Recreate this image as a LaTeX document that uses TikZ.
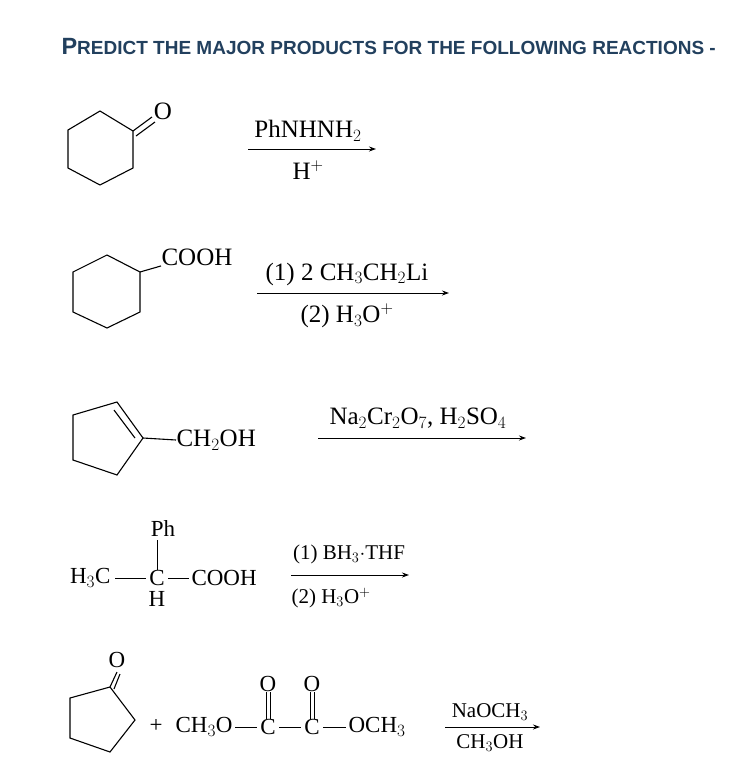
\documentclass[tikz,border=0pt]{standalone}
\usetikzlibrary{arrows.meta}
\usepackage{fontspec}
\setmainfont{Liberation Serif}
\newfontfamily\hdr{Liberation Sans}
\begin{document}
\begin{tikzpicture}[x=1pt,y=-1pt,line width=1.1pt,
  lab/.style={inner sep=0pt,font=\fontsize{25}{28}\selectfont},
  labs/.style={inner sep=0pt,font=\fontsize{23}{26}\selectfont},
  labr/.style={inner sep=0pt,font=\fontsize{21}{24}\selectfont},
  bnd/.style={line width=1pt},
  rxn/.style={-{Stealth[length=7pt,width=5pt]},line width=0.9pt}]
\useasboundingbox (0,0) rectangle (736,774);
\definecolor{hcol}{HTML}{22405E}
\node[anchor=west,inner sep=0pt,text=hcol,font=\hdr\bfseries] (h) at (61,47)
  {{\fontsize{23.5}{26}\selectfont P}{\fontsize{19}{22}\selectfont REDICT THE MAJOR PRODUCTS FOR THE FOLLOWING REACTIONS -}};
% Reaction 1
\draw (133,131)--(100,111)--(68,130)--(68,168)--(100,185)--(133,168)--cycle;
\coordinate (c1) at (133,131);
\node[lab] (o1) at (163,111) {O};
\draw (c1)--(152,117); \draw (136,136)--(155,122);
\coordinate (a1s) at (248,149); \coordinate (a1e) at (376,149);
\draw[rxn] (a1s)--(a1e);
\node[lab] (t1) at (308,131) {PhNHNH$_2$};
\node[lab] (t1b) at (308,170) {H$^+$};
% Reaction 2
\draw (140,272)--(107,255)--(73,272)--(73,312)--(107,328)--(140,312)--cycle;
\node[lab,anchor=west] (cooh) at (161,257) {COOH};
\draw (140,272)--(cooh.south west);
\coordinate (a2s) at (257,293); \coordinate (a2e) at (449,293);
\draw[rxn] (a2s)--(a2e);
\node[lab] (t2) at (347,274) {(1) 2 CH$_3$CH$_2$Li};
\node[lab] (t2b) at (347,316) {(2) H$_3$O$^+$};
% Reaction 3
\draw (143,438)--(117,402)--(73,415)--(73,460)--(117,475)--cycle;
\draw (135,438)--(114,410);
\node[lab,anchor=west] (ch2oh) at (176,440) {CH$_2$OH};
\draw (143,438)--(ch2oh.west);
\coordinate (a3s) at (318,438); \coordinate (a3e) at (526,438);
\draw[rxn] (a3s)--(a3e);
\node[lab] (t3) at (418,418) {Na$_2$Cr$_2$O$_7$, H$_2$SO$_4$};
% Reaction 4
\node[labs] (ph) at (163,529) {Ph};
\node[labs] (c4) at (157,578) {C};
\node[labs] (h4) at (157,599) {H};
\node[labs,anchor=east] (h3c) at (111,578) {H$_3$C};
\node[labs,anchor=west] (co4) at (191,578) {COOH};
\draw[bnd] (157,540)--(c4.north);
\draw[bnd] ([xshift=4pt]h3c.east)--([xshift=-3pt]c4.west);
\draw[bnd] ([xshift=3pt]c4.east)--([xshift=-2pt]co4.west);
\coordinate (a4s) at (291,575); \coordinate (a4e) at (409,575);
\draw[rxn] (a4s)--(a4e);
\node[labr] (t4) at (349,554) {(1) BH$_3$$\cdot$THF};
\node[labr,anchor=west] (t4b) at (291,598) {(2) H$_3$O$^+$};
% Reaction 5
\draw (110,687)--(135,720)--(110,752)--(70,738)--(70,698)--cycle;
\node[labs] (o5) at (117,660) {O};
\draw (110,687)--(117,672); \draw (114,689)--(120,674);
\node[labs] (plus) at (156,726) {+};
\node[labs,anchor=west] (m5) at (175,727) {CH$_3$O};
\node[labs] (c5a) at (268,727) {C};
\node[labs] (c5b) at (312,727) {C};
\node[labs,anchor=west] (och) at (348,727) {OCH$_3$};
\node[labs] (o5a) at (268,684) {O};
\node[labs] (o5b) at (312,684) {O};
\draw[bnd] ([xshift=2pt]m5.east)--([xshift=-3pt]c5a.west);
\draw[bnd] ([xshift=3pt]c5a.east)--([xshift=-3pt]c5b.west);
\draw[bnd] ([xshift=3pt]c5b.east)--([xshift=-2pt]och.west);
\draw[bnd] ([xshift=-2pt]o5a.south)--([xshift=-2pt]c5a.north) ([xshift=2pt]o5a.south)--([xshift=2pt]c5a.north);
\draw[bnd] ([xshift=-2pt]o5b.south)--([xshift=-2pt]c5b.north) ([xshift=2pt]o5b.south)--([xshift=2pt]c5b.north);
\coordinate (a5s) at (445,727); \coordinate (a5e) at (540,727);
\draw[rxn] (a5s)--(a5e);
\node[labr] (t5) at (490,712) {NaOCH$_3$};
\node[labr] (t5b) at (490,743) {CH$_3$OH};
\end{tikzpicture}
\end{document}
